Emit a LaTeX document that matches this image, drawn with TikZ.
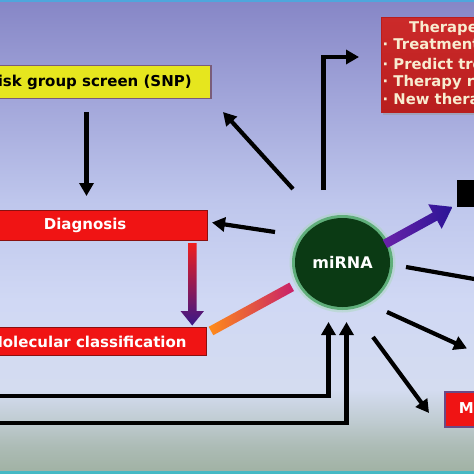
\documentclass[tikz,border=0pt]{standalone}
\usepackage{fontspec}
\setmainfont{DejaVu Sans}
\usetikzlibrary{arrows.meta,calc,shapes.geometric}
\definecolor{bgA}{HTML}{8686C6}
\definecolor{bgB}{HTML}{A2A6DA}
\definecolor{bgC}{HTML}{BEC6EC}
\definecolor{bgD}{HTML}{D0D8F4}
\definecolor{bgE}{HTML}{D4DCF0}
\definecolor{bgF}{HTML}{C0CCD2}
\definecolor{bgG}{HTML}{ADBCB6}
\definecolor{bgH}{HTML}{A2B3A6}
\definecolor{topline}{HTML}{4FA6DC}
\definecolor{botline}{HTML}{45B9C4}
\definecolor{yel}{HTML}{E6E61E}
\definecolor{ybord}{HTML}{7A5C7A}
\definecolor{bred}{HTML}{F01414}
\definecolor{dred}{HTML}{8A1010}
\definecolor{thred}{HTML}{CC2A2A}
\definecolor{thred2}{HTML}{B81E1E}
\definecolor{cream}{HTML}{F8ECD0}
\definecolor{mgreen}{HTML}{0B3A14}
\definecolor{glowA}{HTML}{A8D8B8}
\definecolor{glowB}{HTML}{5FAE7A}
\definecolor{purp}{HTML}{6A22A8}
\definecolor{dblue}{HTML}{2A1496}
\definecolor{gorange}{HTML}{FF8C1A}
\definecolor{gred}{HTML}{F01E1E}
\definecolor{gmag}{HTML}{C8206A}
\definecolor{gpurp}{HTML}{3A1888}
\definecolor{mbord}{HTML}{6A4A86}
\pgfdeclareverticalshading{bgshade}{100bp}{color(0bp)=(bgH); color(25.6bp)=(bgH); color(28bp)=(bgG); color(30.7bp)=(bgF); color(33.9bp)=(bgE); color(43.3bp)=(bgD); color(53.9bp)=(bgC); color(64.4bp)=(bgB); color(75bp)=(bgA); color(100bp)=(bgA)}
\tikzset{
  arr/.style={line width=4.2pt, draw=black, -{Triangle[length=13pt,width=14pt]}},
  plainline/.style={line width=4.2pt, draw=black},
  redbox/.style={rectangle, fill=bred, draw=dred, line width=0.8pt, text=white,
     font=\fontsize{15}{17}\selectfont\bfseries},
  thtext/.style={text=cream, font=\fontsize{14.8}{16}\selectfont\bfseries, inner sep=0pt, anchor=west}
}
\begin{document}
\begin{tikzpicture}[x=1pt,y=-1pt]
\useasboundingbox (0,0) rectangle (474,474);
\clip (0,0) rectangle (474,474);
\shade[shading=bgshade] (0,0) rectangle (474,474);
\fill[topline] (0,0) rectangle (474,2);
\fill[botline] (0,471) rectangle (474,474);

% boxes
\node[rectangle, fill=yel, draw=ybord, line width=1.6pt, anchor=east, minimum height=33pt,
      inner xsep=19pt, font=\fontsize{15}{17}\selectfont\bfseries] (snp) at (211.5,82) {Risk group screen (SNP)};
\node[redbox, anchor=east, minimum height=30pt, minimum width=245pt, inner sep=0pt] (diag) at (208,225) {Diagnosis};
\node[redbox, anchor=east, minimum height=28pt, inner xsep=20pt] (mol) at (207,341.5) {Molecular classification};
\node[redbox, draw=mbord, line width=1.6pt, anchor=west, minimum height=35pt, inner xsep=14pt] (mon) at (444,409.5) {Monitoring};
\fill[black!40, opacity=0.5] (383,19) rectangle (530,115);
\node[rectangle, top color=thred, bottom color=thred2, draw=thred2, anchor=north west,
      minimum width=150pt, minimum height=95pt, inner sep=0pt] (ther) at (381,17) {};
\node[thtext] (th0) at (409,28) {Therapeutic};
\node[thtext] (th1) at (382.5,45.5) {· Treatment response};
\node[thtext] (th2) at (382.5,63.5) {· Predict treatment outcome};
\node[thtext] (th3) at (382.5,82) {· Therapy resistance};
\node[thtext] (th4) at (382.5,100) {· New therapeutic targets};
\node[rectangle, fill=black, anchor=north west, minimum width=30pt, minimum height=27pt, inner sep=0pt] (blk) at (457,180) {};

% miRNA
\coordinate (mc) at (342.5,262.5);
\node[ellipse, minimum width=106pt, minimum height=100pt, fill=glowA, fill opacity=0.45] at (mc) {};
\node[ellipse, minimum width=101pt, minimum height=95pt, fill=glowB] at (mc) {};
\node[ellipse, minimum width=95pt, minimum height=89pt, fill=mgreen, text=white,
      font=\fontsize{16}{18}\selectfont\bfseries] (mirna) at (mc) {miRNA};

% black connectors
\coordinate (a1s) at (86.5,112);
\coordinate (a1e) at (86.5,196);
\draw[arr] (a1s) -- (a1e);
\coordinate (a2s) at (275,232);
\coordinate (a2e) at (212,222.5);
\draw[arr] (a2s) -- (a2e);
\coordinate (a3s) at (293,189);
\coordinate (a3e) at (223,112);
\draw[arr] (a3s) -- (a3e);
\coordinate (a4s) at (323.5,190);
\coordinate (a4e) at (359,57);
\draw[arr] (a4s) |- (a4e);
\coordinate (a5s) at (406,267);
\coordinate (a5e) at (480,280);
\draw[plainline] (a5s) -- (a5e);
\coordinate (a6s) at (387,312);
\coordinate (a6e) at (467,348.5);
\draw[arr] (a6s) -- (a6e);
\coordinate (a7s) at (373,337);
\coordinate (a7e) at (429,413);
\draw[arr] (a7s) -- (a7e);
\coordinate (l1s) at (-5,396);
\coordinate (l1e) at (328.5,322);
\draw[arr] (l1s) -| (l1e);
\coordinate (l2s) at (-5,423);
\coordinate (l2e) at (346.5,322);
\draw[arr] (l2s) -| (l2e);

% gradient connectors
\shade[top color=gred, middle color=gmag, bottom color=gpurp]
  (188,243) -- (196.5,243) -- (196.5,311) -- (204,311) -- (192.25,325.5) -- (180.5,311) -- (188,311) -- cycle;
\begin{scope}[shift={(211,331)}, rotate=28.7]
  \shade[left color=gorange, middle color=gred, right color=gmag] (0,-4.8) rectangle (92,4.8);
\end{scope}
\begin{scope}[shift={(385,244)}, rotate=28.8]
  \shade[left color=purp, right color=dblue]
    (0,-4.6) -- (57,-4.6) -- (57,-14) -- (77,0) -- (57,14) -- (57,4.6) -- (0,4.6) -- cycle;
\end{scope}
\end{tikzpicture}
\end{document}
